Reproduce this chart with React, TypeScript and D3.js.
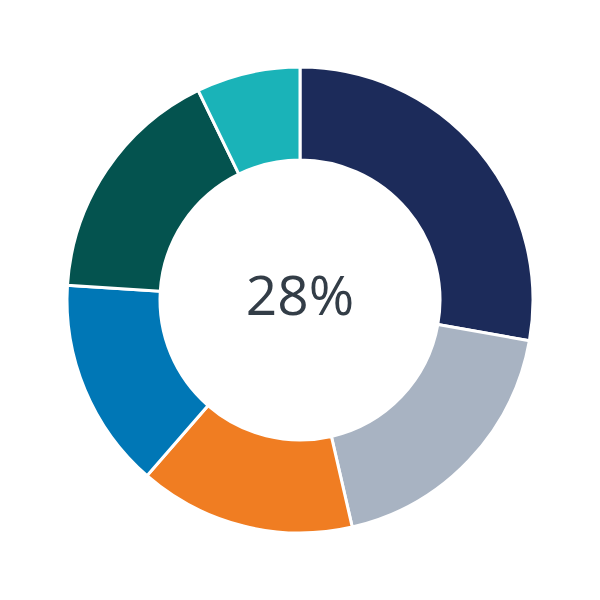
import React from "react";
import * as d3 from "d3";

const labels = ["A", "B", "C", "D", "E", "F"];
const values = [27.8, 18.6, 15.0, 14.6, 16.8, 7.2];
const colors = ["#1c2b5a", "#a8b3c2", "#f07d22", "#0077b6", "#04534f", "#1ab3b8"];
const centerLabel = "28%";

export default function App() {
  const W = 600, H = 600;
  const cx = 300, cy = 300;
  const pie = d3.pie<number>().sort(null).value((d) => d);
  const arcs = pie(values);
  const arc = d3.arc<d3.PieArcDatum<number>>().innerRadius(140).outerRadius(233);
  return (
    <svg width={W} height={H} style={{ position: "absolute", left: 0, top: 0 }}>
      <rect width={W} height={H} fill="#ffffff" />
      <g transform={`translate(${cx},${cy})`}>
        {arcs.map((a, i) => (
          <path key={labels[i]} d={arc(a) || ""} fill={colors[i]} stroke="#ffffff" strokeWidth={3} />
        ))}
        <text
          x={0}
          y={-5}
          dy="0.36em"
          textAnchor="middle"
          fontFamily="'Open Sans', sans-serif"
          fontSize={55}
          fill="#333d47"
        >
          {centerLabel}
        </text>
      </g>
    </svg>
  );
}
